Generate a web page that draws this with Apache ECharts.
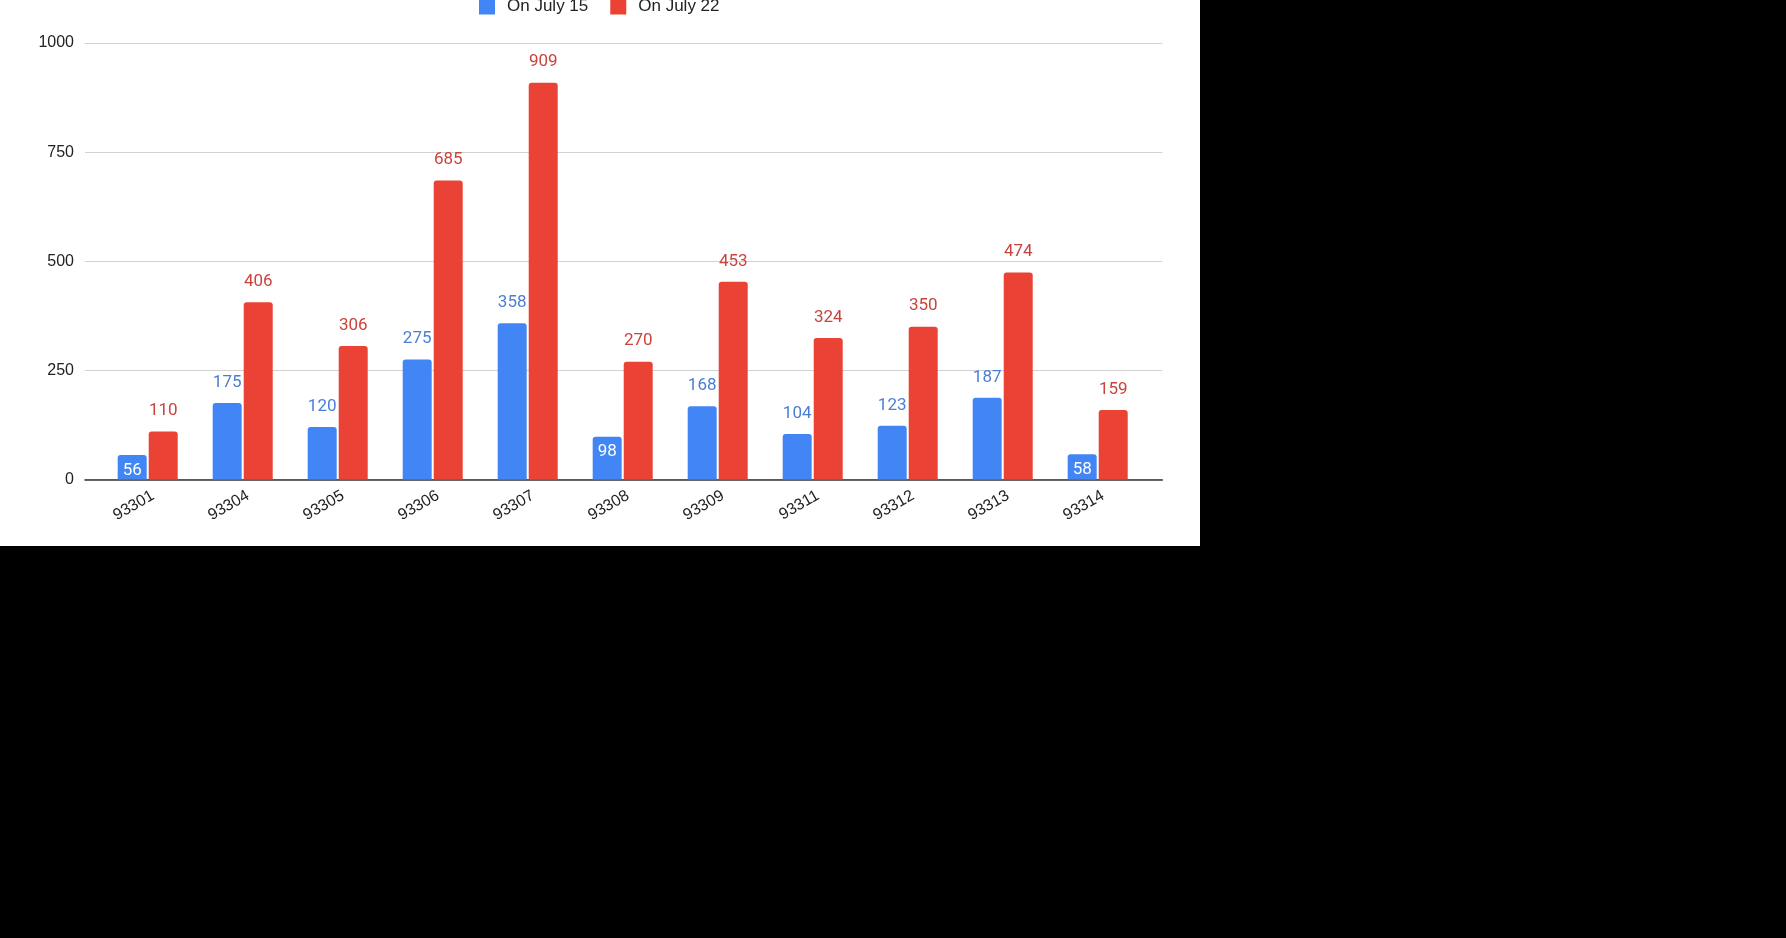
<!DOCTYPE html>
<html>
<head>
<meta charset="utf-8">
<script src="https://cdn.jsdelivr.net/npm/echarts@6/dist/echarts.min.js"></script>
<style>
  html, body { margin: 0; padding: 0; background: #000; }
  #chart { width: 1200px; height: 546px; background: #fff; }
</style>
</head>
<body>
<div id="chart"></div>
<script>
// zip codes along the x axis
var zips = ['93301', '93304', '93305', '93306', '93307', '93308', '93309', '93311', '93312', '93313', '93314'];
// counts per zip
var july15 = [56, 175, 120, 275, 358, 98, 168, 104, 123, 187, 58];
var july22 = [110, 406, 306, 685, 909, 270, 453, 324, 350, 474, 159];
// value axis
var yMin = 0, yMax = 1000, yStep = 250;
// blue labels that sit inside the bar
var insideIdx = [0, 5, 10];

var chart = echarts.init(document.getElementById('chart'));

var axisFont = 'Liberation Sans, Arial, sans-serif';
var labelFont = 'Roboto, sans-serif';

var blueData = july15.map(function (v, i) {
  if (insideIdx.indexOf(i) < 0) return v;
  return { value: v, label: { position: 'insideTop', distance: 7, color: '#fff' } };
});

var option = {
  animation: false,
  legend: {
    top: -7,
    left: 474,
    itemWidth: 16,
    itemHeight: 16,
    itemGap: 22,
    icon: 'rect',
    textStyle: { fontFamily: axisFont, fontSize: 17, color: '#222', padding: [0, 0, 0, 7] },
    data: ['On July 15', 'On July 22']
  },
  grid: [
    // bars
    { left: 100.2, width: 1045, top: 43, height: 436.5 },
    // gridlines and base line, a bit wider than the bars
    { left: 85, width: 1077.3, top: 43, height: 436.5 },
    // category labels, nudged to the right
    { left: 105.5, width: 1045, top: 43, height: 436.5 }
  ],
  xAxis: [
    { type: 'category', gridIndex: 0, data: zips, show: false },
    { type: 'value', gridIndex: 1, min: 0, max: 1,
      axisLine: { show: true, lineStyle: { color: '#333', width: 1.5 } },
      axisTick: { show: false }, axisLabel: { show: false }, splitLine: { show: false } },
    { type: 'category', gridIndex: 2, data: zips,
      axisLine: { show: false }, axisTick: { show: false },
      axisLabel: { rotate: 30, margin: 15, interval: 0, fontFamily: axisFont, fontSize: 16, color: '#222' } }
  ],
  yAxis: [
    { type: 'value', gridIndex: 0, min: yMin, max: yMax, interval: yStep, show: false },
    { type: 'value', gridIndex: 1, min: yMin, max: yMax, interval: yStep,
      axisLine: { show: false }, axisTick: { show: false },
      axisLabel: { margin: 11, fontFamily: axisFont, fontSize: 16, color: '#222',
        formatter: function (v) { return String(v); } },
      splitLine: { lineStyle: { color: '#d2d2d2', width: 1.2 } } },
    { type: 'value', gridIndex: 2, min: yMin, max: yMax, interval: yStep, show: false }
  ],
  series: [
    {
      name: 'On July 15',
      type: 'bar',
      xAxisIndex: 0, yAxisIndex: 0,
      data: blueData,
      barWidth: 29,
      barGap: '7%',
      itemStyle: { color: '#4285f4', borderRadius: [3, 3, 0, 0] },
      label: { show: true, position: 'top', distance: 12, color: '#4a7ed6', fontFamily: labelFont, fontSize: 17 }
    },
    {
      name: 'On July 22',
      type: 'bar',
      xAxisIndex: 0, yAxisIndex: 0,
      data: july22,
      barWidth: 29,
      itemStyle: { color: '#ea4335', borderRadius: [3, 3, 0, 0] },
      label: { show: true, position: 'top', distance: 12, color: '#c8443d', fontFamily: labelFont, fontSize: 17 }
    }
  ]
};

chart.setOption(option);
</script>
</body>
</html>
